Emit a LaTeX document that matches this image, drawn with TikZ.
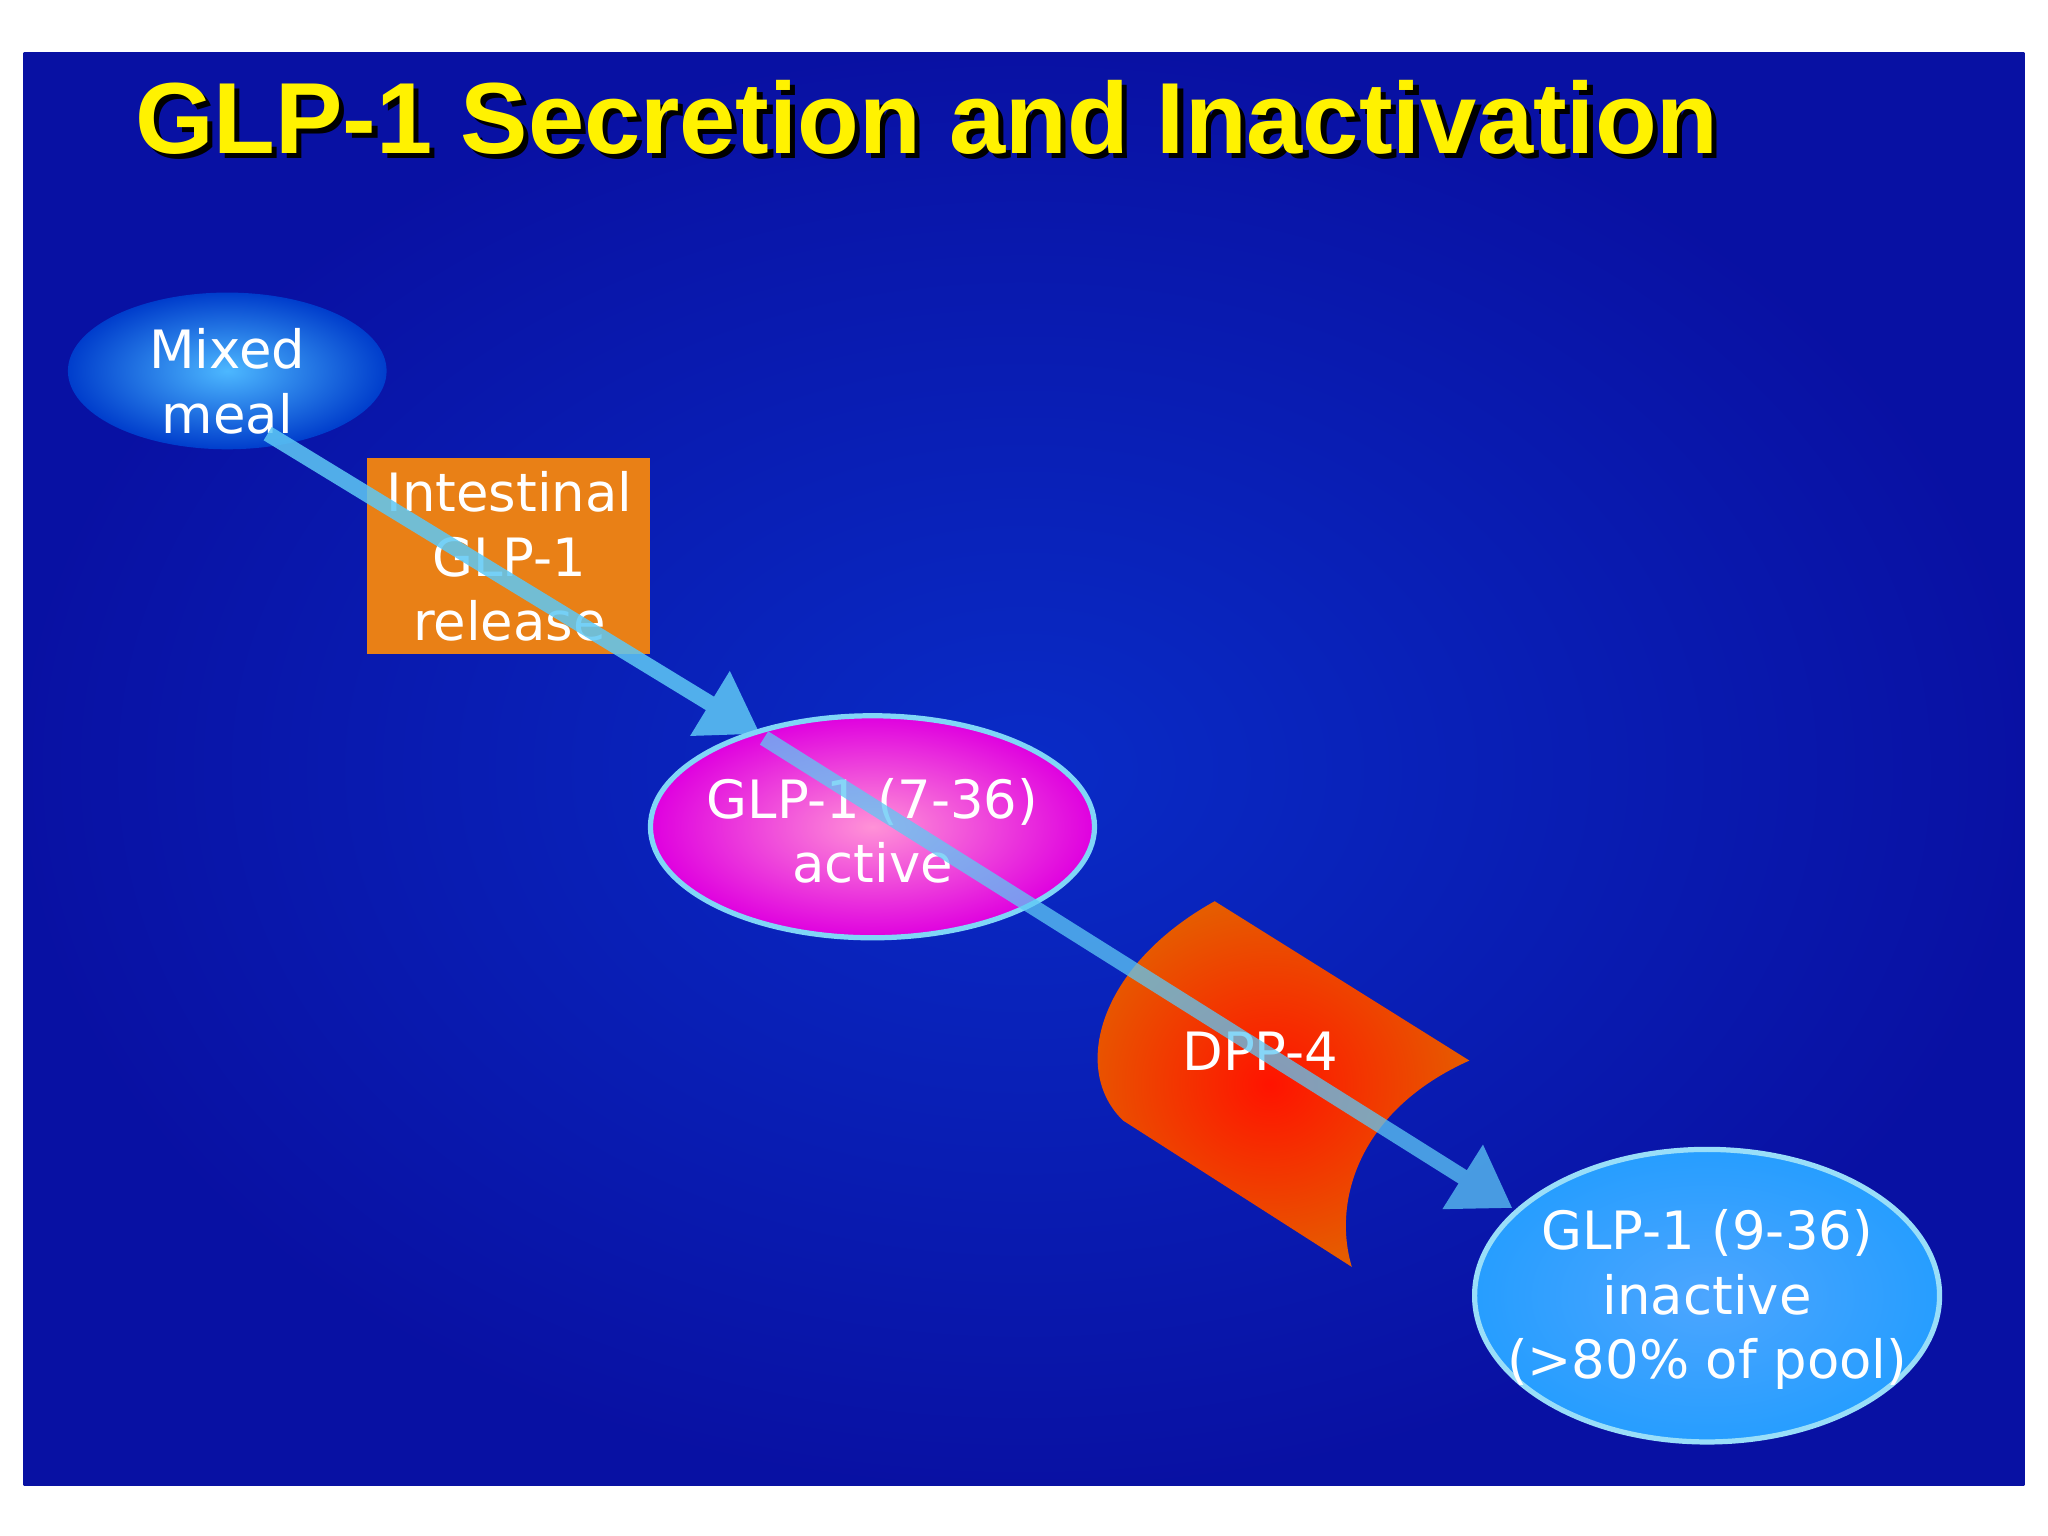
\documentclass[tikz,border=0pt]{standalone}
\usepackage{fontspec}
\setmainfont{DejaVu Sans}
\newfontfamily\titlefont{Liberation Sans}
\usetikzlibrary{arrows.meta}
\definecolor{bg}{HTML}{0A14C0}
\definecolor{flow}{HTML}{5EC8F5}
\tikzset{
  lbl/.style={text=white,font=\fontsize{11.5}{14}\selectfont,align=center},
  flowline/.style={flow,line width=1.2mm,-{Triangle[length=4.5mm,width=5.5mm]}},
}
\begin{document}
\begin{tikzpicture}[x=0.01cm,y=-0.01cm]
\useasboundingbox (0,0) rectangle (1568,1176);
\fill[white] (0,0) rectangle (1568,1176);
\shade[inner color=bg!90!cyan,outer color=bg!85!black] (18,40) rectangle (1550,1137);
\node[anchor=west,text=black,font=\titlefont\bfseries\fontsize{22}{26}\selectfont] at (95,94) {GLP-1 Secretion and Inactivation};
\node[anchor=west,text=yellow,font=\titlefont\bfseries\fontsize{22}{26}\selectfont] (title) at (91,90) {GLP-1 Secretion and Inactivation};
% nodes
\shade[inner color=blue!40!cyan!70,outer color=blue!70!cyan!80!black] (174,284) ellipse (122 and 60);
\node[lbl] (meal) at (174,292) {Mixed\\meal};
\fill[orange!65!brown] (281,351) rectangle (498,501);
\node[lbl,minimum width=2.17cm,minimum height=1.5cm] (rel) at (390,426) {Intestinal\\GLP-1\\release};
\coordinate (a1) at (205,332);
\coordinate (a2) at (582,562);
\begin{scope}[transparency group,opacity=0.85]
\draw[flowline] (a1) -- (a2);
\end{scope}
\shade[inner color=magenta!30!pink!90,outer color=magenta!75!violet,draw=cyan!50,line width=0.4mm] (668,633) ellipse (170 and 85);
\node[lbl] (act) at (668,636) {GLP-1 (7-36)\\active};
% DPP-4
\shade[inner color=red!85!orange,outer color=orange!80!red!90!black] (930,690) -- (1125,812) .. controls (1040,850) and (1020,920) .. (1035,970) -- (860,858) .. controls (820,820) and (840,740) .. (930,690) -- cycle;
\node[lbl] (dpp) at (965,805) {DPP-4};
\coordinate (b1) at (585,565);
\coordinate (b2) at (1158,925);
\begin{scope}[transparency group,opacity=0.75]
\draw[flowline] (b1) -- (b2);
\end{scope}
\shade[inner color=cyan!50!blue!70,outer color=cyan!55!blue!85,draw=cyan!40,line width=0.4mm] (1307,992) ellipse (178 and 112);
\node[lbl] (inact) at (1307,995) {GLP-1 (9-36)\\inactive\\(>80\% of pool)};
\end{tikzpicture}
\end{document}
